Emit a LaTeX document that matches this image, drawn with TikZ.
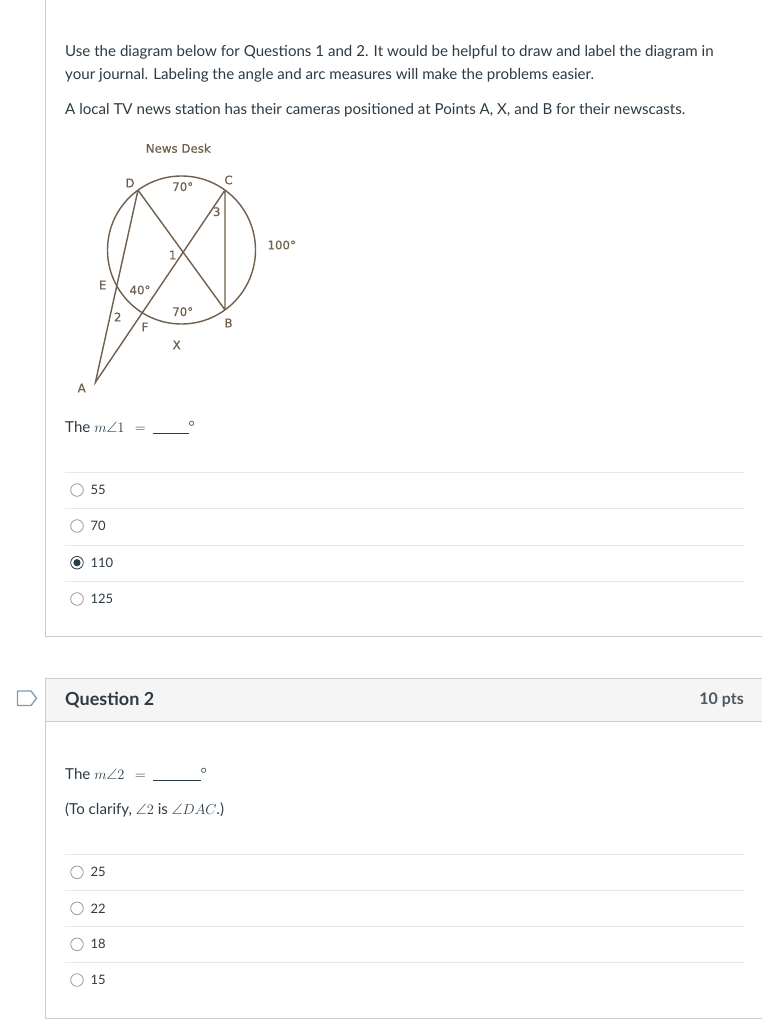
\documentclass[tikz,border=0pt]{standalone}
\usepackage[no-math]{fontspec}
\usepackage{amsmath}
\usepackage{amssymb}
\setmainfont{Lato}
\newfontfamily\figfont[FakeBold=0.35]{DejaVu Sans}
\usetikzlibrary{positioning, calc}
\definecolor{inkdark}{HTML}{2D3B45}
\definecolor{rulegray}{HTML}{C7CDD1}
\definecolor{linegray}{HTML}{E6E8EA}
\definecolor{headfill}{HTML}{F5F5F5}
\definecolor{figbrown}{HTML}{6E604C}
\definecolor{flagblue}{HTML}{7F9DB5}
\tikzset{
	body/.style={anchor=base west, inner sep=0pt, text=inkdark, font=\fontsize{15.1}{17}\selectfont}, % running text of the quiz
	option/.style={inner sep=0pt, text=inkdark, font=\fontsize{13}{16}\selectfont}, % text of an answer
	radio/.style={circle, draw=gray!80, line width=0.8pt, minimum size=12.6pt, inner sep=0pt}, % answer button
	pt/.style={text=figbrown, font=\figfont\fontsize{11.8}{12}\selectfont, inner sep=0pt}, % labels in the figure
	figline/.style={draw=figbrown, line width=1.4pt}, % circle and chords
	rule/.style={draw=rulegray, line width=1pt}, % frames of the questions
	sep/.style={draw=linegray, line width=1pt}, % lines between the answers
}

\begin{document}
\begin{tikzpicture}[x=1pt, y=-1pt]
	\useasboundingbox[fill=white] (0,0) rectangle (762,1024);
	% question 1
	\draw[rule] (45,0) -- (45,636) -- (762,636);
	\node[body] (intro1) at (65,57) {Use the diagram below for Questions 1 and 2. It would be helpful to draw and label the diagram in};
	\node[body] (intro2) at (65,80) {your journal. Labeling the angle and arc measures will make the problems easier.};
	\node[body] (intro3) at (65,115) {A local TV news station has their cameras positioned at Points A, X, and B for their newscasts.};

	% the figure
	\coordinate (O) at (181.5,250);
	\coordinate (D) at ($(O)+(-126:74)$);
	\coordinate (C) at ($(O)+(-54:74)$);
	\coordinate (B) at ($(O)+(54:74)$);
	\coordinate (F) at ($(O)+(122:74)$);
	\coordinate (E) at ($(O)+(151:74)$);
	\coordinate (A) at (intersection of D--E and C--F);
	\draw[figline] (O) circle[radius=74];
	\draw[figline] (D) -- (B) (C) -- (B) (C) -- (A) -- (D);
	\node[pt] (desk) at (178.3,148.3) {News Desk};
	\node[pt] (lD) at (130,183) {D};
	\node[pt] (lC) at (228.5,180) {C};
	\node[pt] (lB) at (228.5,323) {B};
	\node[pt] (lE) at (102.7,285) {E};
	\node[pt] (lF) at (145,327) {F};
	\node[pt] (lA) at (81.7,388) {A};
	\node[pt] (lX) at (176.7,345) {X};
	\node[pt] (ang1) at (172.7,255) {1};
	\node[pt] (ang2) at (117.7,317) {2};
	\node[pt] (ang3) at (216.7,211.7) {3};
	\node[pt] (arcDC) at (182.7,186.7) {70°};
	\node[pt] (arcBF) at (182.7,311.7) {70°};
	\node[pt] (arcEF) at (140,290) {40°};
	\node[pt] (arcCB) at (281.7,245) {100°};

	\node[body] (ask1) at (65,432) {The $m\angle 1\;\,=$\;\,\rule[-1.5pt]{36pt}{0.6pt}${}^{\boldsymbol{\circ}}$};
	\draw[sep] (65,472.5) -- (744,472.5);
	\draw[sep] (65,508.5) -- (744,508.5);
	\draw[sep] (65,545) -- (744,545);
	\draw[sep] (65,581.5) -- (744,581.5);
	\node[radio] (r55) at (77,490) {};
	\node[option, right=6.7pt of r55] (t55) {55};
	\node[radio] (r70) at (77,526) {};
	\node[option, right=6.7pt of r70] (t70) {70};
	\node[radio, draw=inkdark] (r110) at (77,562.7) {};
	\fill[inkdark] (r110.center) circle[radius=3.6];
	\node[option, right=6.7pt of r110] (t110) {110};
	\node[radio] (r125) at (77,599) {};
	\node[option, right=6.7pt of r125] (t125) {125};

	% question 2
	\fill[headfill] (45,678) rectangle (762,721);
	\draw[rule] (762,678) -- (45,678) -- (45,1018) -- (762,1018);
	\draw[rule] (45,721) -- (762,721);
	\draw[flagblue, line width=1.3pt, line join=round] (17.5,691) -- (31,691) -- (36.5,698.3) -- (31,705.5) -- (17.5,705.5) -- cycle;
	\node[anchor=west, inner sep=0pt, text=inkdark, font=\fontsize{18}{20}\bfseries] (head2) at (65,700) {Question 2};
	\node[anchor=east, inner sep=0pt, text=inkdark!85, font=\fontsize{16}{18}\bfseries] (pts2) at (744,700) {10 pts};
	\node[body] (ask2) at (65,779) {The $m\angle 2\;\,=$\;\,\rule[-1.5pt]{48pt}{0.6pt}${}^{\boldsymbol{\circ}}$};
	\node[body] (note2) at (65,814) {(To clarify, $\angle 2$ is $\angle DAC$.)};
	\draw[sep] (65,854.3) -- (744,854.3);
	\draw[sep] (65,890.3) -- (744,890.3);
	\draw[sep] (65,926.3) -- (744,926.3);
	\draw[sep] (65,962.3) -- (744,962.3);
	\node[radio] (r25) at (77,872.3) {};
	\node[option, right=6.7pt of r25] (t25) {25};
	\node[radio] (r22) at (77,908.3) {};
	\node[option, right=6.7pt of r22] (t22) {22};
	\node[radio] (r18) at (77,944.3) {};
	\node[option, right=6.7pt of r18] (t18) {18};
	\node[radio] (r15) at (77,980) {};
	\node[option, right=6.7pt of r15] (t15) {15};
\end{tikzpicture}
\end{document}
